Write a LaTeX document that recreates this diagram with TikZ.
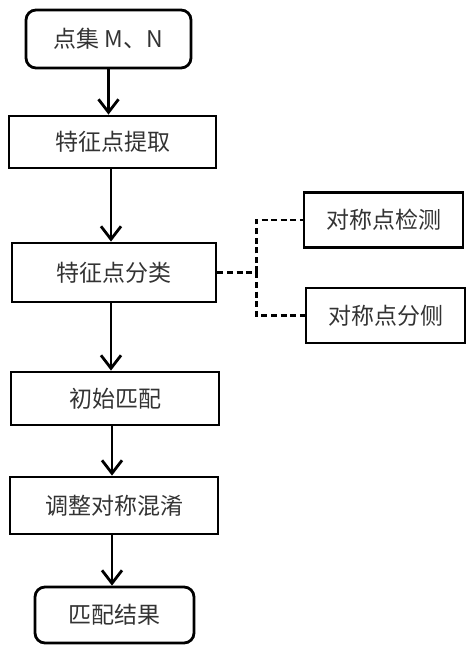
\documentclass[tikz,border=0pt]{standalone}
\usepackage{fontspec}
\setmainfont{Noto Sans CJK SC}
\usetikzlibrary{positioning, arrows.meta}
\tikzset{
	->, % every connector is directed
	>={Straight Barb[length=6.5pt,width=10pt]}, % open V heads
	stage/.style={draw, rectangle, minimum width=#1, minimum height=27pt, inner sep=0pt, text=black!80, font=\fontsize{11.5}{14}\selectfont}, % main boxes
	stage/.default=104pt,
	ends/.style={stage=#1, rounded corners=5pt}, % rounded start and end boxes
	side/.style={stage=79.5pt, minimum height=27.5pt}, % boxes on the right
	link/.style={-, line width=1.1pt, dash pattern=on 3pt off 1.8pt}, % dashed branch
}

\begin{document}
\begin{tikzpicture}[x=0.5pt, y=-0.5pt, line width=1.4pt]
	\useasboundingbox (0,0) rectangle (474,651);
			\node[ends=82.5pt, minimum height=29pt] (points) at (108.5,39) {点集 M、N};
			\node[stage=103.5pt, minimum height=26pt] (extract) at (112.5,142) {特征点提取};
			\node[stage=102pt, minimum height=29.5pt] (classify) at (114,272.5) {特征点分类};
			\node[side] (detect) at (383.5,220) {对称点检测};
			\node[side] (split) at (385.5,315.5) {对称点分侧};
			\node[stage=104pt, minimum height=26.5pt] (match) at (115,398.5) {初始匹配};
			\node[stage=104pt, minimum height=28.5pt] (adjust) at (114,505.5) {调整对称混淆};
			\node[ends=79.5pt, minimum height=28pt] (result) at (114.5,615) {匹配结果};
	\draw 	(points.south) -- (points.south |- extract.north);
	\draw 	(extract.south -| 111,0) -- (111,0 |- classify.north);
	\draw 	(classify.south -| 111,0) -- (111,0 |- match.north);
	\draw 	(match.south -| 112,0) -- (112,0 |- adjust.north);
	\draw 	(adjust.south -| 112,0) -- (112,0 |- result.north);
	\draw[link] (classify.east) -- ++(39,0) coordinate (fork);
	\draw[link] (fork) |- (detect.west);
	\draw[link] (fork) |- (split.west);
	\end{tikzpicture}
\end{document}
